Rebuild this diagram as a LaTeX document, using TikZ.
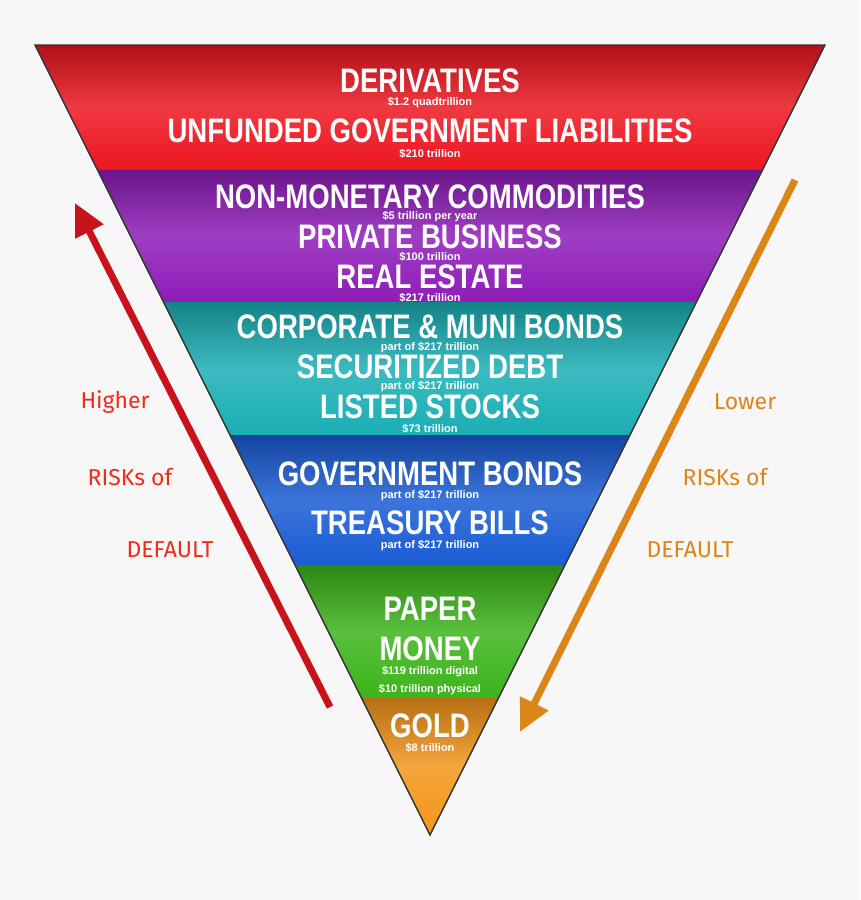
\documentclass[tikz,border=0pt]{standalone}
\usetikzlibrary{arrows.meta}
\usepackage{fontspec}
\setmainfont{Liberation Sans}
\newfontfamily\handf{Fira Sans}
\begin{document}
\begin{tikzpicture}[x=1pt,y=-1pt,
 big/.style={text=white,font=\bfseries\fontsize{34}{34}\selectfont,xscale=0.81,inner sep=0},
 small/.style={text=white,font=\bfseries\fontsize{11}{11}\selectfont,inner sep=0},
 side/.style={font=\handf\fontsize{23}{23}\selectfont,inner sep=0}]
\useasboundingbox (0,0) rectangle (860,900);
\fill[white!97!black] (0,0) rectangle (860,900);
\def\band#1#2#3#4{%
 \shade[top color=#3!75!black,bottom color=#3,middle color=#3!85!white]
 ({35+0.5*(#1-45)},#1) -- ({825-0.5*(#1-45)},#1) -- ({825-0.5*(#2-45)},#2) -- ({35+0.5*(#2-45)},#2) -- cycle;}
\definecolor{cR}{HTML}{EC1620}
\definecolor{cP}{HTML}{8E1CB8}
\definecolor{cT}{HTML}{1AAEB4}
\definecolor{cB}{HTML}{1A5CD4}
\definecolor{cG}{HTML}{3CB41A}
\definecolor{cO}{HTML}{F3951A}
\band{45}{170}{cR}{}
\band{170}{302}{cP}{}
\band{302}{435}{cT}{}
\band{435}{565}{cB}{}
\band{565}{698}{cG}{}
\band{698}{835}{cO}{}
\coordinate (tl) at (35,45); \coordinate (tr) at (825,45); \coordinate (ap) at (430,835);
\draw[line width=1.5pt,black!80] (tl) -- (tr) -- (ap) -- cycle;
\node[big] (n1) at (430,81) {DERIVATIVES};
\node[small] (s1) at (430,103) {\$1.2 quadtrillion};
\node[big] (n2) at (430,131) {UNFUNDED GOVERNMENT LIABILITIES};
\node[small] (s2) at (430,154) {\$210 trillion};
\node[big] (n3) at (430,197) {NON-MONETARY COMMODITIES};
\node[small] (s3) at (430,217) {\$5 trillion per year};
\node[big] (n4) at (430,237) {PRIVATE BUSINESS};
\node[small] (s4) at (430,257) {\$100 trillion};
\node[big] (n5) at (430,277) {REAL ESTATE};
\node[small] (s5) at (430,298) {\$217 trillion};
\node[big] (n6) at (430,327) {CORPORATE \& MUNI BONDS};
\node[small] (s6) at (430,348) {part of \$217 trillion};
\node[big] (n7) at (430,367) {SECURITIZED DEBT};
\node[small] (s7) at (430,387) {part of \$217 trillion};
\node[big] (n8) at (430,407) {LISTED STOCKS};
\node[small] (s8) at (430,429) {\$73 trillion};
\node[big] (n9) at (430,474) {GOVERNMENT BONDS};
\node[small] (s9) at (430,496) {part of \$217 trillion};
\node[big] (n10) at (430,523) {TREASURY BILLS};
\node[small] (s10) at (430,546) {part of \$217 trillion};
\node[big] (n11) at (430,609) {PAPER};
\node[big] (n12) at (430,649) {MONEY};
\node[small] (s11) at (430,672) {\$119 trillion digital};
\node[small] (s12) at (430,690) {\$10 trillion physical};
\node[big] (n13) at (430,726) {GOLD};
\node[small] (s13) at (430,748) {\$8 trillion};
\coordinate (la) at (330,707); \coordinate (lb) at (75,203);
\draw[line width=7pt,color=cR!85!black,-{Triangle[length=32pt,width=30pt]}] (la) -- (lb);
\coordinate (ra) at (795,180); \coordinate (rb) at (520,732);
\draw[line width=7pt,color=cO!90!black,-{Triangle[length=32pt,width=30pt]}] (ra) -- (rb);
\node[side,text=cR!80!orange] (h1) at (115,402) {Higher};
\node[side,text=cR!80!orange] (h2) at (130,477) {RISKs of};
\node[side,text=cR!80!orange] (h3) at (170,550) {DEFAULT};
\node[side,text=cO!90!black] (l1) at (745,402) {Lower};
\node[side,text=cO!90!black] (l2) at (725,477) {RISKs of};
\node[side,text=cO!90!black] (l3) at (690,550) {DEFAULT};
\end{tikzpicture}
\end{document}
